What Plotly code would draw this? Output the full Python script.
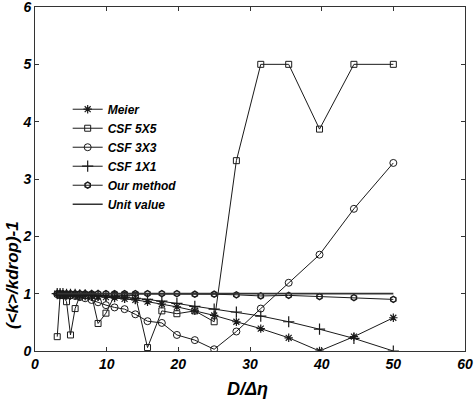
import plotly.graph_objects as go

D = [3.1, 3.5, 3.9, 4.4, 4.95, 5.6, 6.25, 7.0, 7.9, 8.8, 9.9, 11.1, 12.5, 14.0,
     15.7, 17.7, 19.8, 22.3, 25.0, 28.1, 31.5, 35.4, 39.7, 44.5, 50.0]

meier = [1.0, 1.0, 0.99, 0.99, 0.98, 0.98, 0.97, 0.97, 0.96, 0.95, 0.94, 0.93, 0.91,
         0.89, 0.86, 0.82, 0.77, 0.70, 0.62, 0.51, 0.39, 0.23, 0.0, 0.25, 0.58]
csf5 = [0.25, 0.97, 0.97, 0.86, 0.28, 0.74, 0.96, 0.97, 0.97, 0.48, 0.66, 0.97, 0.97,
        0.97, 0.06, 0.70, 0.65, 0.70, 0.51, 3.32, 5.0, 5.0, 3.87, 5.0, 5.0]
csf3 = [0.99, 0.99, 0.98, 0.98, 0.97, 0.96, 0.94, 0.92, 0.89, 0.85, 0.80, 0.76, 0.73,
        0.64, 0.52, 0.49, 0.28, 0.19, 0.03, 0.34, 0.74, 1.19, 1.68, 2.48, 3.28]
csf1 = [1.0, 1.0, 1.0, 0.99, 0.99, 0.99, 0.98, 0.98, 0.97, 0.97, 0.96, 0.95, 0.94,
        0.92, 0.90, 0.87, 0.83, 0.78, 0.73, 0.68, 0.61, 0.51, 0.38, 0.22, 0.0]
ours = [1.0, 1.0, 1.0, 1.0, 1.0, 1.0, 1.0, 1.0, 1.0, 1.0, 1.0, 1.0, 1.0,
        1.0, 1.0, 1.0, 1.0, 0.99, 0.99, 0.98, 0.96, 0.97, 0.95, 0.93, 0.90]
unit_x = [3.1, 50.0]
unit_y = [1.0, 1.0]

x_ticks = [0, 10, 20, 30, 40, 50, 60]
y_ticks = [0, 1, 2, 3, 4, 5, 6]

LC = "#1a1a1a"
FAM = "Liberation Sans, Arial, sans-serif"
font_bi = dict(family=FAM, size=14, color="black", weight="bold", style="italic")

fig = go.Figure()

def add(name, y, symbol, size, mlw=1):
    fig.add_trace(go.Scatter(
        x=D, y=y, name=name, mode="lines+markers",
        line=dict(color=LC, width=1),
        marker=dict(symbol=symbol, size=size, color=LC,
                    line=dict(color=LC, width=mlw)),
    ))

add("Meier", meier, "asterisk-open", 7, 1.2)
add("CSF 5X5", csf5, "square-open", 6, 1)
add("CSF 3X3", csf3, "circle-open", 7, 1)
add("CSF 1X1", csf1, "cross-thin-open", 8, 1.2)
add("Our method", ours, "hexagon-open", 6, 1.5)
fig.add_trace(go.Scatter(x=unit_x, y=unit_y, name="Unit value", mode="lines",
                         line=dict(color="#333333", width=1.6)))

axis_common = dict(
    showline=True, linecolor="#333333", linewidth=1, mirror="ticks",
    ticks="inside", ticklen=4, tickcolor="#333333",
    showgrid=False, zeroline=False, tickfont=font_bi, automargin=False,
    ticklabeloverflow="allow",
)

fig.update_xaxes(range=[0, 60], tickvals=x_ticks, ticktext=[str(v) for v in x_ticks],
                 **axis_common)
fig.update_yaxes(range=[0, 6.0001], tickvals=y_ticks, ticktext=[str(v) for v in y_ticks],
                 **axis_common)

fig.add_annotation(text="D/Δη", xref="paper", yref="paper", x=0.494, y=-0.076,
                   xanchor="center", yanchor="top", showarrow=False,
                   font=dict(family=FAM, size=18, color="black",
                             weight="bold", style="italic"))
fig.add_annotation(text="(&lt;k&gt;/kdrop)-1", xref="paper", yref="paper",
                   x=-0.052, y=0.22, xanchor="center", yanchor="middle",
                   textangle=-90, showarrow=False,
                   font=dict(family=FAM, size=17, color="black",
                             weight="bold", style="italic"))

fig.update_layout(
    width=474, height=399,
    margin=dict(l=35, r=9, t=7, b=48, autoexpand=False),
    paper_bgcolor="white", plot_bgcolor="white",
    showlegend=True,
    legend=dict(x=0.076, y=0.745, xanchor="left", yanchor="top",
                bgcolor="rgba(0,0,0,0)", borderwidth=0, tracegroupgap=0,
                font=dict(family=FAM, size=12, color="black",
                          weight="bold", style="italic")),
)

fig.write_html("out.html", config={"displayModeBar": False},
               post_script="document.body.style.margin='0';document.body.style.padding='0';")
